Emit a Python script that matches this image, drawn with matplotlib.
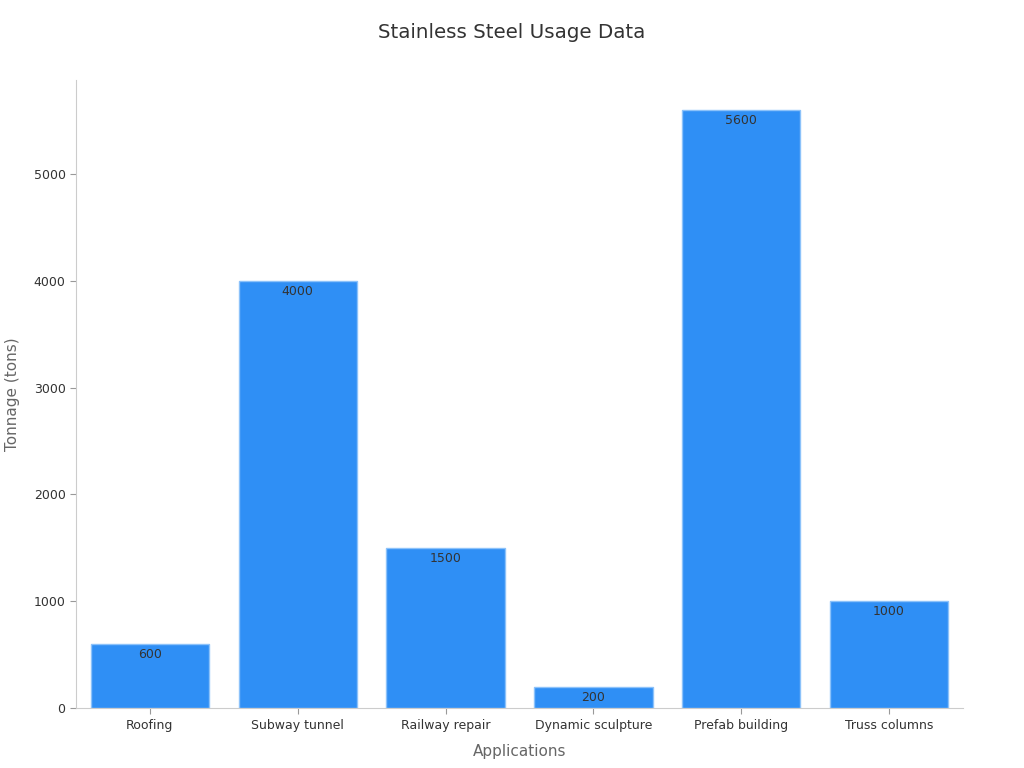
import matplotlib.pyplot as plt

# Data
applications = ['Roofing', 'Subway tunnel', 'Railway repair', 'Dynamic sculpture',
                'Prefab building', 'Truss columns']
tonnage = [600, 4000, 1500, 200, 5600, 1000]

fig = plt.figure(figsize=(10.24, 7.68), dpi=100)
ax = fig.add_axes([0.0742, 0.078, 0.8662, 0.818])

bars = ax.bar(range(len(applications)), tonnage, width=0.8,
              color='#2f8ff5', edgecolor='#8cc2fa', linewidth=1)

for b, v in zip(bars, tonnage):
    ax.annotate(str(v), (b.get_x() + b.get_width() / 2, v),
                xytext=(0, -3), textcoords='offset points',
                ha='center', va='top', fontsize=9, color='#333333')

ax.set_xlim(-0.5, len(applications) - 0.5)
ax.set_ylim(0, 5880)
ax.set_xticks(range(len(applications)))
ax.set_xticklabels(applications)
ax.set_yticks([0, 1000, 2000, 3000, 4000, 5000])

for s in ['top', 'right']:
    ax.spines[s].set_visible(False)
for s in ['left', 'bottom']:
    ax.spines[s].set_color('#cccccc')
ax.tick_params(colors='#333333', labelsize=9, length=4)
ax.tick_params(axis='both', color='#999999')

ax.set_xlabel('Applications', fontsize=11, color='#666666', labelpad=9)
ax.set_ylabel('Tonnage (tons)', fontsize=11, color='#666666', labelpad=10)
fig.suptitle('Stainless Steel Usage Data', fontsize=14.3, color='#333333', y=0.97)

plt.savefig('out.png')
